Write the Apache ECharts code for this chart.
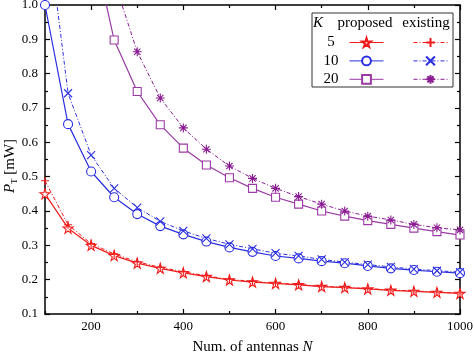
<!DOCTYPE html>
<html>
<head>
<meta charset="utf-8">
<script src="https://cdn.jsdelivr.net/npm/echarts@6/dist/echarts.min.js"></script>
<style>html,body{margin:0;padding:0;background:#fff}#c{width:474px;height:355px}</style>
</head>
<body>
<div id="c"></div>
<script>
const N = [100,150,200,250,300,350,400,450,500,550,600,650,700,750,800,850,900,950,1000];
const prop5  = [0.45,0.35,0.30,0.27,0.248,0.233,0.22,0.209,0.199,0.193,0.189,0.185,0.18,0.177,0.173,0.169,0.166,0.163,0.16];
const exist5 = [0.488,0.36,0.305,0.275,0.252,0.236,0.223,0.211,0.201,0.195,0.19,0.186,0.181,0.178,0.174,0.17,0.167,0.164,0.161];
const prop10  = [1.0,0.653,0.515,0.44,0.391,0.356,0.332,0.311,0.294,0.281,0.269,0.262,0.254,0.248,0.24,0.233,0.228,0.223,0.219];
const exist10 = [1.28,0.743,0.563,0.466,0.41,0.37,0.342,0.32,0.303,0.29,0.277,0.269,0.259,0.251,0.244,0.237,0.231,0.226,0.222];
const prop20  = [2.6,1.7,1.2,0.898,0.748,0.651,0.583,0.534,0.497,0.466,0.44,0.42,0.4,0.385,0.372,0.361,0.35,0.34,0.33];
const exist20 = [3.0,1.95,1.4,1.07,0.864,0.729,0.642,0.58,0.531,0.495,0.466,0.442,0.42,0.40,0.385,0.374,0.361,0.351,0.345];
const xLabelTicks = [200,400,600,800,1000];
const xMinorTicks = [100,300,500,700,900];
const Kvals = ['5','10','20'];

const FONT = '"Liberation Serif", "Times New Roman", serif';
const RED = '#f01c1c', BLUE = '#2a2ee0', PURP = '#9a3aa4', PURP2 = '#8a1c92';
const STAR = 'path://M50,0 L61,35 L98,35 L68,57 L79,91 L50,70 L21,91 L32,57 L2,35 L39,35 Z';
const PLUS = 'path://M0,5L10,5M5,0L5,10';
const CROSS = 'path://M0,0L10,10M10,0L0,10';
const AST = 'path://M5,0L5,10M0,5L10,5M1.5,1.5L8.5,8.5M8.5,1.5L1.5,8.5';

function pts(ys){ return N.map((n,i)=>[n, ys[i]]); }
function ser(name, ys, color, symbol, size, dashed, hollowFill){
  return {
    name, type:'line', data: pts(ys), symbol, symbolSize: size, clip: true,
    showAllSymbol: true, animation:false,
    lineStyle:{color, width: dashed?1:1.2, type: dashed?[4,2,1,2]:'solid'},
    itemStyle:{color: hollowFill ? '#fff' : color, borderColor: color, borderWidth: 1.1}
  };
}

const baseX = {type:'value', min:100, max:1000, interval:100, gridIndex:0};
const baseY = {type:'value', min:0.1, max:1.0, interval:0.1, gridIndex:0};
const axLine = {show:true, lineStyle:{color:'#000', width:1.5}};
const legendCommon = {orient:'vertical', top:37, itemWidth:34, itemHeight:11, itemGap:7.5, padding:0,
  formatter:()=>'', selectedMode:false, textStyle:{fontSize:1}, lineStyle:{width:1}};

const option = {
  backgroundColor:'#fff',
  animation:false,
  grid:{left:45, right:14, top:5, bottom:41, containLabel:false, outerBoundsMode:'none'},
  xAxis:[
    Object.assign({}, baseX, {position:'bottom', axisLine:axLine,
      axisTick:{show:true, inside:true, length:5, customValues:xLabelTicks, lineStyle:{color:'#000', width:1.2}},
      axisLabel:{show:true, customValues:xLabelTicks, color:'#000', fontFamily:FONT, fontSize:13, margin:6, formatter:v=>String(v), hideOverlap:false},
      splitLine:{show:false},
      name:'{a|Num. of antennas }{b|N}', nameLocation:'middle', nameGap:26,
      nameTextStyle:{rich:{a:{fontFamily:FONT, fontSize:15, color:'#000'}, b:{fontFamily:FONT, fontSize:15, fontStyle:'italic', color:'#000'}}}
    }),
    Object.assign({}, baseX, {position:'bottom', axisLine:{show:false},
      axisTick:{show:true, inside:true, length:3, customValues:xMinorTicks, lineStyle:{color:'#000', width:1.2}},
      axisLabel:{show:false}, splitLine:{show:false}}),
    Object.assign({}, baseX, {position:'top', axisLine:axLine,
      axisTick:{show:true, inside:true, length:5, customValues:xLabelTicks, lineStyle:{color:'#000', width:1.2}},
      axisLabel:{show:false}, splitLine:{show:false}}),
    Object.assign({}, baseX, {position:'top', axisLine:{show:false},
      axisTick:{show:true, inside:true, length:3, customValues:xMinorTicks, lineStyle:{color:'#000', width:1.2}},
      axisLabel:{show:false}, splitLine:{show:false}})
  ],
  yAxis:[
    Object.assign({}, baseY, {position:'left', axisLine:axLine,
      axisTick:{show:true, inside:true, length:5, lineStyle:{color:'#000', width:1.2}},
      minorTick:{show:true, splitNumber:2, length:3, lineStyle:{color:'#000', width:1.2}},
      axisLabel:{color:'#000', fontFamily:FONT, fontSize:13, margin:7, formatter:v=>v.toFixed(1)},
      splitLine:{show:false}, minorSplitLine:{show:false}
    }),
    Object.assign({}, baseY, {position:'right', axisLine:axLine,
      axisTick:{show:true, inside:true, length:5, lineStyle:{color:'#000', width:1.2}},
      minorTick:{show:true, splitNumber:2, length:3, lineStyle:{color:'#000', width:1.2}},
      axisLabel:{show:false}, splitLine:{show:false}, minorSplitLine:{show:false}})
  ],
  legend:[
    Object.assign({left:349, data:['p5','p10','p20']}, legendCommon),
    Object.assign({left:413, data:['e5','e10','e20']}, legendCommon)
  ],
  graphic:[
    {type:'text', x:10, y:166, rotation:Math.PI/2, z:5, style:{
      text:'{p|P}{t|T}{n| [mW]}', textAlign:'center', textVerticalAlign:'middle',
      rich:{
        p:{fontFamily:FONT, fontSize:15, fontStyle:'italic', fill:'#000', lineHeight:18},
        t:{fontFamily:FONT, fontSize:9, fill:'#000', lineHeight:9, verticalAlign:'bottom'},
        n:{fontFamily:FONT, fontSize:15, fill:'#000', lineHeight:18}}}},
    {type:'rect', shape:{x:312, y:13, width:141, height:74}, style:{fill:'#fff', stroke:'#333', lineWidth:1}, z:3},
    {type:'text', x:318, y:23, z:5, style:{text:'K', font:'italic 15px '+FONT, fill:'#000', textAlign:'center', textVerticalAlign:'middle'}},
    {type:'text', x:365, y:23, z:5, style:{text:'proposed', font:'15px '+FONT, fill:'#000', textAlign:'center', textVerticalAlign:'middle'}},
    {type:'text', x:426, y:23, z:5, style:{text:'existing', font:'15px '+FONT, fill:'#000', textAlign:'center', textVerticalAlign:'middle'}},
    ...Kvals.map((k,i)=>({type:'text', x:331, y:[42.5,61,79.5][i], z:5,
      style:{text:k, font:'15px '+FONT, fill:'#000', textAlign:'center', textVerticalAlign:'middle'}}))
  ],
  series:[
    ser('p5', prop5, RED, STAR, 10, false, true),
    ser('e5', exist5, RED, PLUS, 8, true, false),
    ser('p10', prop10, BLUE, 'circle', 9, false, true),
    ser('e10', exist10, BLUE, CROSS, 8, true, false),
    ser('p20', prop20, PURP, 'rect', 8, false, true),
    ser('e20', exist20, PURP2, AST, 9, true, false)
  ]
};
const chart = echarts.init(document.getElementById('c'), null, {renderer:'canvas'});
chart.setOption(option);
</script>
</body>
</html>
